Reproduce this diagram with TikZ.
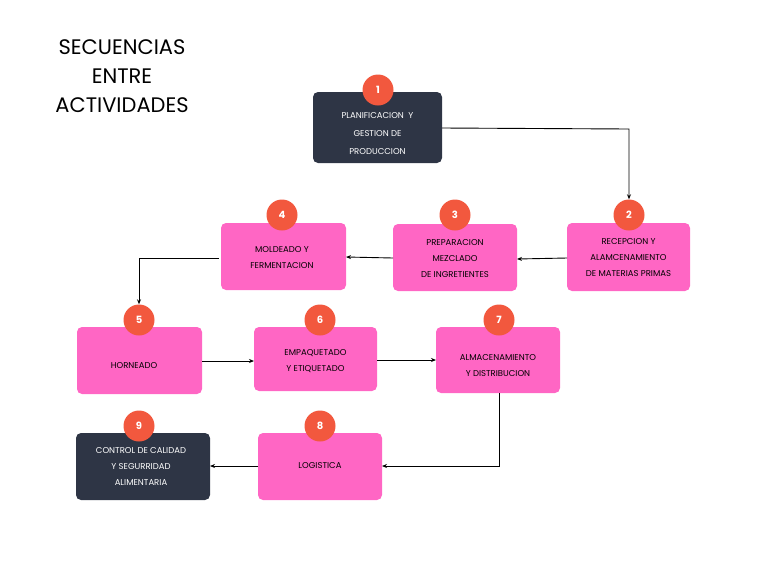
\documentclass[tikz,border=0pt]{standalone}
\usepackage{fontspec}
\setmainfont{Poppins}
\usetikzlibrary{arrows.meta}
\definecolor{pinkb}{HTML}{FF66C4}
\definecolor{darkb}{HTML}{2E3545}
\definecolor{numc}{HTML}{F2583E}
\begin{document}
\begin{tikzpicture}[x=1pt,y=-1pt,
  box/.style={rounded corners=5pt,fill=pinkb,draw=none,align=center,font=\fontsize{8.5}{15}\selectfont,text=black},
  dbox/.style={box,fill=darkb,text=white},
  num/.style={circle,fill=numc,minimum size=31pt,inner sep=0pt,text=white,font=\bfseries\fontsize{10}{12}\selectfont},
  arr/.style={-{Stealth[length=5pt,width=4pt]},line width=0.9pt}]
\useasboundingbox (0,0) rectangle (768,576);
\node[align=center,font=\fontsize{21}{29}\selectfont] (t) at (122,76) {SECUENCIAS\\ENTRE\\ACTIVIDADES};
\path[dbox] (313,92) rectangle (442,163);
\node[align=center,text=white,font=\fontsize{8.5}{18}\selectfont] (b1) at (377.5,134) {PLANIFICACION\ \ Y\\GESTION DE\\PRODUCCION};
\path[box] (567,223) rectangle (690,291);
\node[align=center,font=\fontsize{8.5}{16}\selectfont] (b2) at (628.5,258) {RECEPCION Y\\ALAMCENAMIENTO\\DE MATERIAS PRIMAS};
\path[box] (393,224) rectangle (517,291);
\node[align=center,font=\fontsize{8.5}{16}\selectfont] (b3) at (455,259) {PREPARACION\\MEZCLADO\\DE INGRETIENTES};
\path[box] (221,223) rectangle (346,290);
\node[align=center,font=\fontsize{8.5}{16}\selectfont] (b4) at (282,258) {MOLDEADO Y\\FERMENTACION};
\path[box] (77,327) rectangle (202,394);
\node[font=\fontsize{8.5}{16}\selectfont] (b5) at (134,366) {HORNEADO};
\path[box] (254,327) rectangle (377,391);
\node[align=center,font=\fontsize{8.5}{16}\selectfont] (b6) at (315.5,361) {EMPAQUETADO\\Y ETIQUETADO};
\path[box] (436,327) rectangle (560,393);
\node[align=center,font=\fontsize{8.5}{16}\selectfont] (b7) at (498,366) {ALMACENAMIENTO\\Y DISTRIBUCION};
\path[box] (258,433) rectangle (382,500);
\node[font=\fontsize{8.5}{16}\selectfont] (b8) at (320,466) {LOGISTICA};
\path[dbox] (76,433) rectangle (210,500);
\node[align=center,text=white,font=\fontsize{8.5}{16}\selectfont] (b9) at (141,466) {CONTROL DE CALIDAD\\Y SEGURRIDAD\\ALIMENTARIA};
\node[num] (n1) at (378,90) {1};
\node[num] (n2) at (629,215) {2};
\node[num] (n3) at (455,215) {3};
\node[num] (n4) at (282,215) {4};
\node[num] (n5) at (139,320) {5};
\node[num] (n6) at (320,320) {6};
\node[num] (n7) at (499,320) {7};
\node[num] (n8) at (320,426) {8};
\node[num] (n9) at (139,426) {9};
\coordinate (c1) at (442,128); \coordinate (c1b) at (629,129);
\draw[arr] (c1) -- (c1b) -- (n2.north);
\coordinate (c2) at (567,258); \coordinate (c2b) at (517,259);
\draw[arr] (c2) -- (c2b);
\coordinate (c3) at (393,258); \coordinate (c3b) at (346,257);
\draw[arr] (c3) -- (c3b);
\coordinate (c4) at (219,258); \coordinate (c4b) at (139,258);
\draw[arr] (c4) -- (c4b) -- (n5.north);
\coordinate (c5) at (202,361); \coordinate (c5b) at (254,361);
\draw[arr] (c5) -- (c5b);
\coordinate (c6) at (377,360); \coordinate (c6b) at (436,360);
\draw[arr] (c6) -- (c6b);
\coordinate (c7) at (499,393); \coordinate (c7b) at (499,466); \coordinate (c7c) at (382,466);
\draw[arr] (c7) -- (c7b) -- (c7c);
\coordinate (c8) at (258,466); \coordinate (c8b) at (210,466);
\draw[arr] (c8) -- (c8b);
\end{tikzpicture}
\end{document}
